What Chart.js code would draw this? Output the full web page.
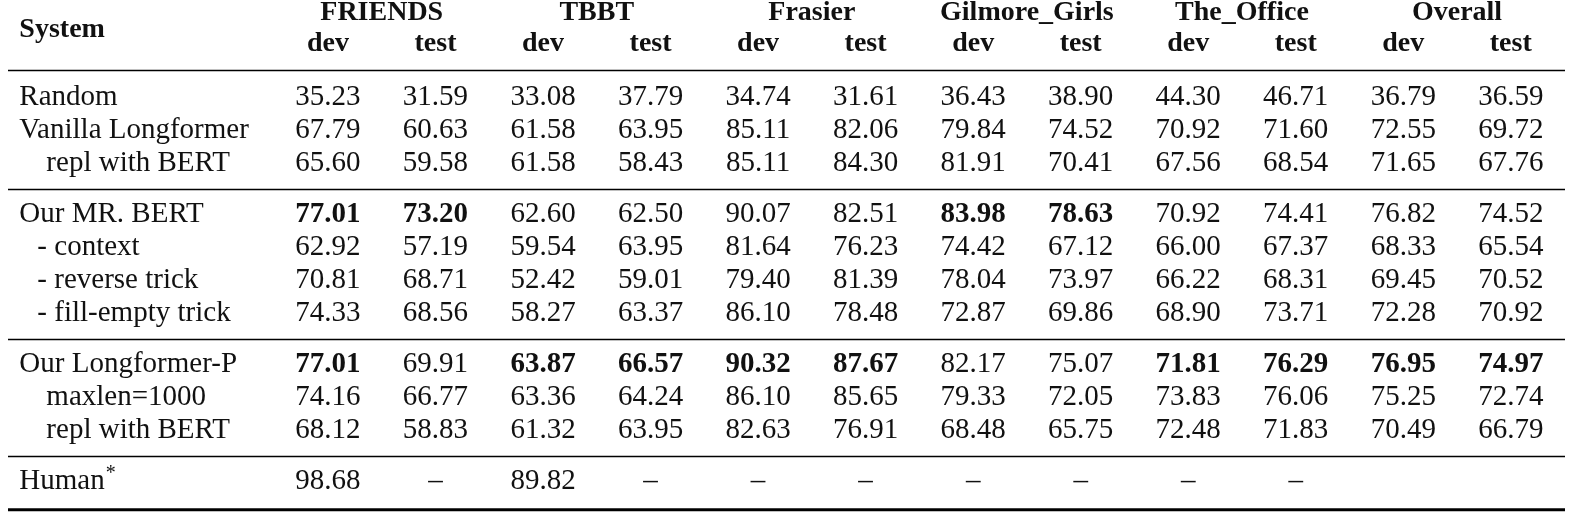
<!DOCTYPE html>
<html>
<head>
<meta charset="utf-8">
<script src="https://cdn.jsdelivr.net/npm/chart.js@4"></script>
<style>
body { margin: 0; background: #fff; }
#wrap { width: 1571px; height: 513px; }
</style>
</head>
<body>
<div id="wrap"><canvas id="tbl" width="1571" height="513"></canvas></div>
<script>
// table contents
var groups = ["FRIENDS", "TBBT", "Frasier", "Gilmore_Girls", "The_Office", "Overall"];
var subCols = ["dev", "test"];
var rowGroups = [3, 4, 3, 1];
var systems = ["Random", "Vanilla Longformer", "   repl with BERT",
	"Our MR. BERT", "  - context", "  - reverse trick", "  - fill-empty trick",
	"Our Longformer-P", "   maxlen=1000", "   repl with BERT",
	"Human"];
var values = [
	["35.23","31.59","33.08","37.79","34.74","31.61","36.43","38.90","44.30","46.71","36.79","36.59"],
	["67.79","60.63","61.58","63.95","85.11","82.06","79.84","74.52","70.92","71.60","72.55","69.72"],
	["65.60","59.58","61.58","58.43","85.11","84.30","81.91","70.41","67.56","68.54","71.65","67.76"],
	["77.01","73.20","62.60","62.50","90.07","82.51","83.98","78.63","70.92","74.41","76.82","74.52"],
	["62.92","57.19","59.54","63.95","81.64","76.23","74.42","67.12","66.00","67.37","68.33","65.54"],
	["70.81","68.71","52.42","59.01","79.40","81.39","78.04","73.97","66.22","68.31","69.45","70.52"],
	["74.33","68.56","58.27","63.37","86.10","78.48","72.87","69.86","68.90","73.71","72.28","70.92"],
	["77.01","69.91","63.87","66.57","90.32","87.67","82.17","75.07","71.81","76.29","76.95","74.97"],
	["74.16","66.77","63.36","64.24","86.10","85.65","79.33","72.05","73.83","76.06","75.25","72.74"],
	["68.12","58.83","61.32","63.95","82.63","76.91","68.48","65.75","72.48","71.83","70.49","66.79"],
	["98.68","–","89.82","–","–","–","–","–","–","–",""," "]
];
var bold = [[3,0],[3,1],[3,6],[3,7],[7,0],[7,2],[7,3],[7,4],[7,5],[7,8],[7,9],[7,10],[7,11]];

var FONT = '"Liberation Serif"';
var GAP = 0.55;
var rowPos = [];
(function () {
	var r = 0;
	rowGroups.forEach(function (n, g) {
		for (var k = 0; k < n; k++) { rowPos.push(r + g * GAP); r++; }
	});
})();
var rulePos = [-0.82];
(function () {
	var r = 0;
	for (var g = 0; g < rowGroups.length - 1; g++) {
		r += rowGroups[g];
		rulePos.push((rowPos[r - 1] + rowPos[r]) / 2);
	}
})();
var bottomRule = rowPos[rowPos.length - 1] + 0.85;

var points = [];
values.forEach(function (row, i) {
	row.forEach(function (v, j) { points.push({x: j, y: rowPos[i], t: v, r: i, c: j}); });
});

function isBold(r, c) { return bold.some(function (b) { return b[0] == r && b[1] == c; }); }

var tablePlugin = {
	id: 'tableText',
	afterDatasetsDraw: function (chart) {
		var ctx = chart.ctx, xs = chart.scales.x, ys = chart.scales.y;
		var meta = chart.getDatasetMeta(0);
		ctx.save();
		ctx.fillStyle = '#111';
		ctx.textBaseline = 'middle';
		ctx.textAlign = 'center';
		meta.data.forEach(function (el, i) {
			var p = points[i];
			ctx.font = (isBold(p.r, p.c) ? 'bold ' : '') + '29px ' + FONT;
			ctx.fillText(p.t, el.x, el.y);
		});
		// system names
		var sx = xs.getPixelForValue(-2.87);
		ctx.textAlign = 'left';
		systems.forEach(function (s, i) {
			var y = ys.getPixelForValue(rowPos[i]);
			ctx.font = '29px ' + FONT;
			var lead = s.length - s.replace(/^ +/, '').length;
			var txt = s.trim();
			var x = sx + lead * 9;
			ctx.fillText(txt, x, y);
			if (txt == 'Human') {
				var w = ctx.measureText(txt).width;
				ctx.font = '20px ' + FONT;
				ctx.fillText('*', x + w + 1, y - 8);
			}
		});
		// header
		ctx.font = 'bold 28px ' + FONT;
		ctx.fillText('System', sx, ys.getPixelForValue(-2.04));
		ctx.textAlign = 'center';
		groups.forEach(function (g, k) {
			ctx.fillText(g, xs.getPixelForValue(2 * k + 0.5), ys.getPixelForValue(-2.55));
			subCols.forEach(function (s, m) {
				ctx.fillText(s, xs.getPixelForValue(2 * k + m), ys.getPixelForValue(-1.6));
			});
		});
		// rules
		ctx.strokeStyle = '#000';
		rulePos.forEach(function (r) {
			var y = Math.round(ys.getPixelForValue(r)) + 0.5;
			ctx.lineWidth = 1.5;
			ctx.beginPath(); ctx.moveTo(8, y); ctx.lineTo(chart.width - 6, y); ctx.stroke();
		});
		var yb = ys.getPixelForValue(bottomRule);
		ctx.lineWidth = 3;
		ctx.beginPath(); ctx.moveTo(8, yb); ctx.lineTo(chart.width - 6, yb); ctx.stroke();
		ctx.restore();
	}
};

new Chart(document.getElementById('tbl'), {
	type: 'scatter',
	data: { datasets: [{ data: points, pointRadius: 0, pointHoverRadius: 0 }] },
	options: {
		responsive: false,
		animation: false,
		devicePixelRatio: 1,
		layout: { padding: 0 },
		plugins: { legend: { display: false }, tooltip: { enabled: false } },
		scales: {
			x: { type: 'linear', display: false, min: -3.05, max: 11.56 },
			y: { type: 'linear', display: false, reverse: true, min: -2.94, max: 12.6 }
		}
	},
	plugins: [tablePlugin]
});
</script>
</body>
</html>
